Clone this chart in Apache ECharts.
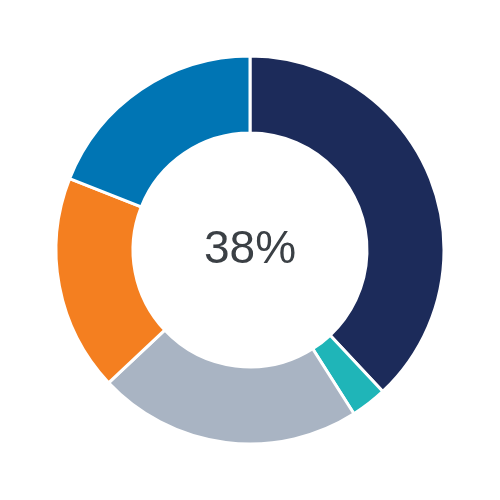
<!DOCTYPE html>
<html><head><meta charset="utf-8">
<script src="https://cdn.jsdelivr.net/npm/echarts@6/dist/echarts.min.js"></script>
<style>html,body{margin:0;padding:0;background:#fff}#c{width:500px;height:500px}</style>
</head><body><div id="c"></div>
<script>
const names = ['A','B','C','D','E'];
const values = [38, 3, 22, 18, 19];
const colors = ['#1c2b5a','#1fb5b8','#a9b4c3','#f47f20','#0075b4'];
const centerLabel = '38%';
const chart = echarts.init(document.getElementById('c'));
chart.setOption({
  animation:false,
  color: colors,
  graphic:[{type:'text',left:'center',top:'middle',style:{text:centerLabel,font:'46px "Liberation Sans", Arial, sans-serif',fill:'#3b4045'}}],
  series:[{
    type:'pie',
    center:[250,250],
    radius:[117,194],
    startAngle:90,
    clockwise:true,
    label:{show:false},
    labelLine:{show:false},
    itemStyle:{borderColor:'#fff',borderWidth:3},
    data: names.map((n,i)=>({name:n,value:values[i]}))
  }]
});
</script></body></html>
